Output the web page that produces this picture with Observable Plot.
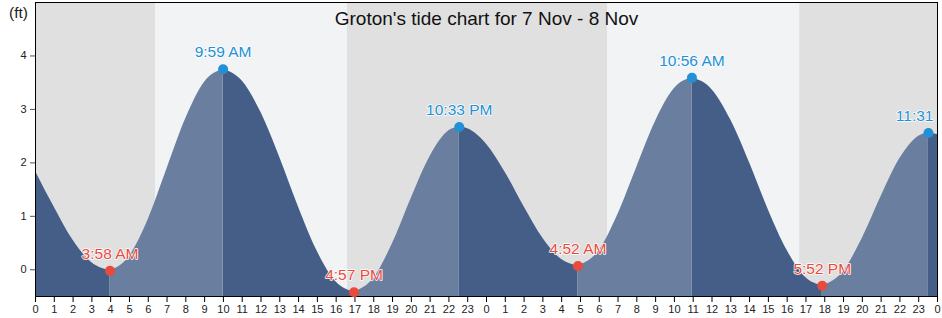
<!DOCTYPE html>
<html>
<head>
<meta charset="utf-8">
<script src="https://cdn.jsdelivr.net/npm/d3@7"></script>
<script src="https://cdn.jsdelivr.net/npm/@observablehq/plot@0.6"></script>
<style>
  html, body { margin: 0; padding: 0; background: #ffffff; }
  #chart svg { display: block; }
</style>
</head>
<body>
<div id="chart"></div>
<script>
// ---- data ----
const title = "Groton's tide chart for 7 Nov - 8 Nov";
const unitLabel = "(ft)";

// hourly readings of the tide curve (hours since midnight 7 Nov)
const hours   = [0, 1, 2, 3, 5, 6, 7, 8, 9, 11, 12, 13, 14, 15, 16, 18, 19, 20, 21, 22, 23, 24, 25, 26, 27, 28, 30, 31, 32, 33, 34, 36, 37, 38, 39, 40, 41, 43, 44, 45, 46, 47, 48];
const heights = [1.84, 1.17, 0.55, 0.13, 0.25, 0.94, 1.89, 2.83, 3.51, 3.53, 2.94, 2.10, 1.17, 0.34, -0.23, -0.16, 0.49, 1.34, 2.12, 2.60, 2.64, 2.35, 1.82, 1.18, 0.59, 0.19, 0.36, 1.04, 1.92, 2.78, 3.39, 3.37, 2.80, 2.00, 1.12, 0.36, -0.15, -0.03, 0.59, 1.37, 2.08, 2.50, 2.53];

// high / low tides
const extremeHours   = [3.967, 9.983, 16.95, 22.55, 28.867, 34.933, 41.867, 47.517];
const extremeHeights = [-0.02, 3.75, -0.42, 2.67, 0.07, 3.59, -0.30, 2.56];
const extremeLabels  = ["3:58 AM", "9:59 AM", "4:57 PM", "10:33 PM", "4:52 AM", "10:56 AM", "5:52 PM", "11:31 PM"];
const extremeTypes   = ["low", "high", "low", "high", "low", "high", "low", "high"];

// night / day bands (hours)
const nightStarts = [0, 16.6, 40.66];
const nightEnds   = [6.39, 30.44, 48];
const dayStarts   = [6.39, 30.44];
const dayEnds     = [16.6, 40.66];

// axis ticks
const xTicks = [0,1,2,3,4,5,6,7,8,9,10,11,12,13,14,15,16,17,18,19,20,21,22,23,24,25,26,27,28,29,30,31,32,33,34,35,36,37,38,39,40,41,42,43,44,45,46,47,48];
const xTickLabels = ["0","1","2","3","4","5","6","7","8","9","10","11","12","13","14","15","16","17","18","19","20","21","22","23","0","1","2","3","4","5","6","7","8","9","10","11","12","13","14","15","16","17","18","19","20","21","22","23","0"];
const yTicks = [0, 1, 2, 3, 4];
const yTickLabels = ["0", "1", "2", "3", "4"];

// ---- build tables ----
const readings = hours.map((h, i) => ({hour: h, height: heights[i]}));
const extremes = extremeHours.map((h, i) => ({hour: h, height: extremeHeights[i], label: extremeLabels[i], type: extremeTypes[i]}));
const bounds = [hours[0], ...extremeHours, hours[hours.length - 1]];
const segRows = [];
for (let k = 0; k < bounds.length - 1; k++) {
  const a = bounds[k], b = bounds[k + 1];
  const pts = [...readings, ...extremes]
    .filter(p => p.hour >= a && p.hour <= b)
    .sort((p, q) => p.hour - q.hour);
  const rising = k < extremes.length && extremes[k].type === "high";
  pts.forEach(p => segRows.push({hour: p.hour, height: p.height, seg: k, rising}));
}
const nights = nightStarts.map((s, i) => ({start: s, end: nightEnds[i]}));
const days = dayStarts.map((s, i) => ({start: s, end: dayEnds[i]}));

const DARK = "#455e87", LIGHT = "#6a7e9f";
const BLUE = "#2290d6", RED = "#e84b3c";
const FONT = "Liberation Sans, Arial, Helvetica, sans-serif";

const chart = Plot.plot({
  width: 942,
  height: 318,
  marginLeft: 35,
  marginRight: 5,
  marginTop: 2,
  marginBottom: 22,
  style: {fontFamily: FONT, background: "#ffffff"},
  x: {domain: [0, 48], label: null},
  y: {domain: [-0.5, 5], label: null},
  marks: [
    Plot.rect(nights, {x1: "start", x2: "end", y1: -0.5, y2: 5, fill: "#e0e0e0"}),
    Plot.rect(days, {x1: "start", x2: "end", y1: -0.5, y2: 5, fill: "#f2f3f5"}),
    Plot.areaY(segRows.filter(d => !d.rising), {x: "hour", y1: -0.5, y2: "height", z: "seg", fill: DARK, curve: "monotone-x"}),
    Plot.areaY(segRows.filter(d => d.rising), {x: "hour", y1: -0.5, y2: "height", z: "seg", fill: LIGHT, curve: "monotone-x"}),
    Plot.axisX({ticks: xTicks, tickFormat: d => xTickLabels[xTicks.indexOf(d)], tickSize: 6, tickPadding: 3, fontSize: 11, stroke: "#000", fill: "#222"}),
    Plot.axisY({ticks: yTicks, tickFormat: d => yTickLabels[yTicks.indexOf(d)], tickSize: 5, tickPadding: 4, fontSize: 11, stroke: "#555", fill: "#222"}),
    Plot.frame({stroke: "#000", strokeWidth: 1}),
    Plot.dot(extremes, {x: "hour", y: "height", r: 5, fill: d => d.type === "high" ? BLUE : RED}),
    Plot.text(extremes, {x: "hour", y: "height", text: "label", dy: -17, fontSize: 15.5, fill: d => d.type === "high" ? BLUE : RED, stroke: "white", strokeWidth: 1.5, clip: true}),
    Plot.text([title], {frameAnchor: "top", lineAnchor: "middle", dy: 16, fontSize: 19, fill: "#111"}),
    Plot.text([unitLabel], {frameAnchor: "top-left", lineAnchor: "middle", textAnchor: "middle", dx: -17, dy: 11, fontSize: 15.5, fill: "#222"})
  ]
});
document.getElementById("chart").appendChild(chart);
</script>
</body>
</html>
